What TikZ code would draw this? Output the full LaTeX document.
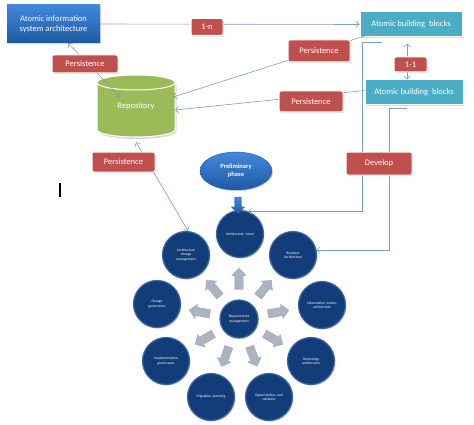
\documentclass[tikz,border=0pt]{standalone}
\usepackage{fontspec}
\setmainfont{Carlito}
\usetikzlibrary{positioning,shapes.geometric,shapes.arrows,shadows,arrows.meta}
\definecolor{tagred}{HTML}{C0504D}
\definecolor{aqua}{HTML}{4BACC6}
\definecolor{repogreen}{HTML}{9BBB59}
\definecolor{navyball}{HTML}{123D78}
\definecolor{ballrim}{HTML}{3A66A8}
\definecolor{skyblue}{HTML}{4388DC}
\definecolor{deepblue}{HTML}{1E5AA4}
\definecolor{linkline}{HTML}{7D9BC8}
\definecolor{spokegray}{HTML}{ABB5C2}

\begin{document}
\begin{tikzpicture}[x=1pt,y=1pt,>={Straight Barb[length=3pt,width=6pt]},
    softshadow/.style={drop shadow={shadow xshift=1pt,shadow yshift=-1.2pt,opacity=0.3}},
    tag/.style={draw=white,line width=1pt,fill=tagred,rounded corners=2pt,text=white,
      font=\fontsize{8.5}{9}\selectfont,inner sep=0pt,softshadow},
    block/.style={draw=white,line width=1pt,fill=aqua,text=white,minimum height=25,
      font=\fontsize{8.5}{9}\selectfont,inner sep=0pt,softshadow},
    phase/.style={circle,minimum size=47,inner sep=0pt,fill=navyball,draw=ballrim,
      line width=1.2pt,text=white,align=center,font=\fontsize{3.6}{4.3}\selectfont,softshadow},
    spoke/.style={single arrow,fill=spokegray,draw=spokegray!85!black,line width=0.3pt,
      minimum height=21,inner sep=4pt,single arrow head extend=3pt},
    link/.style={draw=linkline,line width=0.6pt}]
  \useasboundingbox (0,0) rectangle (474,424);
  % top row
  \node[top color=skyblue,bottom color=deepblue,minimum width=93,minimum height=38,
    text=white,align=center,font=\fontsize{8.5}{10}\selectfont,softshadow] (aisa) at (53.5,400)
    {Atomic information\\system architecture};
  \node[block,minimum width=102] (abbA) at (411,399.5) {Atomic building\ \ blocks};
  \node[block,minimum width=98] (abbB) at (414,331.5) {Atomic building\ \ blocks};
  % repository
  \fill[black!30,opacity=0.5] (98.5,339.5) -- (98.5,292.5) arc (180:360:39 and 7.5)
    -- (176.5,339.5) arc (0:180:39 and 7.5) -- cycle;
  \filldraw[fill=repogreen,draw=white,line width=1pt] (97,341.5) -- (97,294.5)
    arc (180:360:39 and 7.5) -- (175,341.5) arc (0:180:39 and 7.5) -- cycle;
  \draw[white,line width=1pt] (97,341.5) arc (180:360:39 and 7.5);
  \node[minimum width=78,minimum height=62,inner sep=0pt,text=white,
    font=\fontsize{8.5}{9}\selectfont] (repo) at (136,318) {Repository};
  % cycle of phases
  \node[ellipse,top color=skyblue,bottom color=deepblue,draw=deepblue,minimum width=72,
    minimum height=38,inner sep=0pt,text=white,align=center,
    font=\bfseries\fontsize{6.5}{8}\selectfont,softshadow] (prelim) at (236,253)
    {Preliminary\\phase};
  \node[phase] (av) at (240,190) {Architecture\ \ vision};
  \node[phase] (acm) at (186,169) {Architecture\\change\\management};
  \node[phase] (ba) at (293,169) {Business\\Architecture};
  \node[phase] (cg) at (157,120) {Change\\governance};
  \node[phase] (isa) at (322,119) {Information\ \ system\\architecture};
  \node[phase,minimum size=38] (rm) at (239,105) {Requirements\\management};
  \node[phase] (ig) at (166,63) {Implementation\\governance};
  \node[phase] (ta) at (311,63) {Technology\\architecture};
  \node[phase] (mp) at (211,27) {Migration\ \ planning};
  \node[phase] (os) at (269,27) {Opportunities\ \ and\\solutions};
  \node[single arrow,shape border rotate=270,top color=skyblue,bottom color=deepblue,
    minimum height=17,inner sep=3.5pt,single arrow head extend=3.5pt] (down)
    at (238,220.5) {};
  \foreach \a in {90,130,50,170,10,-150,-30,-110,-69}
    \node[spoke,rotate=\a] (spoke\a) at ([shift={(\a:38)}]rm.center) {};
  % connectors
  \draw[link,->] (aisa.east) -- (abbA.west);
  \draw[link,->] ([shift={(-23,9)}]abbA.south) -- ([shift={(-2,9)}]repo.east);
  \draw[link,->] ([yshift=2]abbB.west) -- ([yshift=-4]repo.east);
  \draw[link,<->] ([xshift=14.5]aisa.south) -- ([shift={(-16,-22)}]repo.north);
  \draw[link,<->] ([yshift=-5]repo.south) -- ([xshift=2]acm.north);
  \draw[link,<->] ([shift={(-4,-6)}]abbA.south) -- ([xshift=-7]abbB.north);
  \draw[link,->] ([shift={(22,-5)}]abbA.south west) -- ++(-19,0) |- (av.70);
  \draw[link,->] ([shift={(-7,-3)}]abbB.south) -- ++(-18,0) |- (ba.12);
  % labels on the connectors
  \node[tag,minimum width=32,minimum height=17] (onen) at (207,397) {1-n};
  \node[tag,minimum width=33,minimum height=15] (oneone) at (410.5,359.5) {1-1};
  \node[tag,minimum width=62,minimum height=22] (persA) at (319,373) {Persistence};
  \node[tag,minimum width=64,minimum height=21] (persB) at (311,322.5) {Persistence};
  \node[tag,minimum width=66,minimum height=18] (persC) at (85,360) {Persistence};
  \node[tag,minimum width=63,minimum height=20] (persD) at (123.5,262) {Persistence};
  \node[tag,minimum width=66,minimum height=23] (develop) at (379,260.5) {Develop};
  % text cursor
  \draw[line width=1.2pt] (60,227) -- (60,241);
\end{tikzpicture}
\end{document}
